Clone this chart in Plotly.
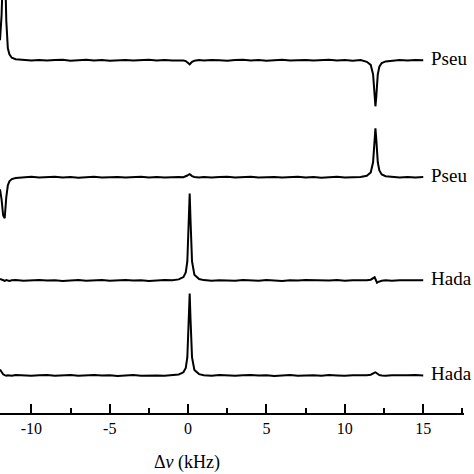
import plotly.graph_objects as go

# frequency offset grid (kHz), shared by the four spectra
freq_khz = [
    -12.0, -11.9, -11.8, -11.7, -11.6, -11.5, -11.4, -11.25, -11.0, -10.5,
    -10.0, -9.5, -9.0, -8.5, -8.0, -7.5, -7.0, -6.5, -6.0, -5.5,
    -5.0, -4.5, -4.0, -3.5, -3.0, -2.5, -2.0, -1.5, -1.0, -0.6,
    -0.3, -0.15, -0.05, 0.05, 0.1, 0.15, 0.25, 0.4, 0.7, 1.0,
    1.5, 2.0, 2.5, 3.0, 3.5, 4.0, 4.5, 5.0, 5.5, 6.0,
    6.5, 7.0, 7.5, 8.0, 8.5, 9.0, 9.5, 10.0, 10.5, 11.0,
    11.4, 11.65, 11.8, 11.9, 11.95, 12.0, 12.05, 12.1, 12.2, 12.35,
    12.6, 13.0, 13.5, 14.0, 14.5, 15.0,
]

# intensities (a.u.), top spectrum first
pseudo_a = [
    20, 45, 95, 110, 40, 12, 6, 2.5, 1.0, 0.3,
    -0.2, 0.4, -0.3, 0.2, 0.5, -0.4, 0.1, 0.6, -0.2, 0.3,
    -0.5, 0.2, 0.4, -0.3, 0.1, 0.5, -0.2, 0.3, -0.1, 0.2,
    -0.3, -0.8, -2.0, -3.5, -4.0, -3.2, -1.5, -0.5, 0.2, -0.2,
    0.4, 0.1, -0.4, 0.3, 0.6, -0.1, 0.2, -0.4, 0.3, 0.5,
    -0.2, 0.1, 0.4, -0.3, 0.2, 0.6, -0.1, 0.3, -0.4, 0.2,
    -1.5, -4.6, -14, -37, -46, -37, -23, -14, -6.4, -2.7,
    -1.1, -0.2, 0.3, -0.2, 0.4, 0.1,
]
pseudo_b = [
    -12, -22, -38, -41, -20, -8, -4, -1.8, -0.8, 0.2,
    0.5, -0.2, 0.3, 0.6, -0.1, 0.2, -0.4, 0.3, 0.5, -0.2,
    0.1, 0.4, -0.3, 0.2, 0.5, -0.1, 0.3, -0.3, 0.2, 0.4,
    0.1, 0.8, 1.8, 2.8, 3.2, 2.6, 1.2, 0.4, -0.2, 0.3,
    -0.1, 0.4, 0.6, -0.2, 0.1, 0.5, -0.3, 0.2, 0.4, -0.2,
    0.3, 0.6, -0.1, 0.2, -0.4, 0.3, 0.5, -0.2, 0.1, 0.4,
    1.6, 4.9, 15, 39, 49, 39, 24.5, 15, 6.9, 2.9,
    1.1, 0.5, -0.1, 0.3, -0.2, 0.2,
]
hadamard_a = [
    1.5, 0.8, 0.2, -0.3, 0.4, 0.1, -0.4, 0.3, 0.5, -0.2,
    0.3, 0.6, -0.1, 0.2, -0.4, 0.3, 0.5, -0.2, 0.1, 0.4,
    -0.3, 0.2, 0.6, -0.1, 0.3, -0.4, 0.2, 0.5, 0.3, 1.1,
    3.4, 8, 19, 62, 87, 62, 19, 5.8, 1.5, 0.4,
    -0.2, 0.3, 0.1, -0.3, 0.4, 0.2, -0.2, 0.5, 0.1, -0.4,
    0.3, -0.1, 0.4, 0.2, -0.3, 0.1, 0.5, -0.2, 0.3, -0.1,
    0.3, 0.8, 1.8, 3.2, 1.5, -1.0, -2.2, -1.6, -0.8, -0.3,
    0.2, -0.2, 0.3, 0.1, -0.3, 0.2,
]
hadamard_b = [
    6, 3.5, 1.2, 0.4, -0.2, 0.3, 0.1, -0.3, 0.4, 0.2,
    -0.3, 0.3, 0.5, -0.2, 0.1, 0.4, -0.3, 0.2, 0.5, -0.1,
    0.3, -0.4, 0.2, 0.4, -0.2, 0.3, 0.1, -0.3, 0.4, 1.0,
    3.2, 7.5, 18, 58, 82, 58, 18, 5.5, 1.4, 0.3,
    -0.2, 0.4, 0.1, -0.3, 0.2, 0.5, -0.1, 0.3, -0.4, 0.2,
    0.4, -0.2, 0.1, 0.3, -0.3, 0.4, 0.1, -0.2, 0.3, 0.1,
    0.3, 0.8, 1.6, 2.8, 3.2, 2.8, 1.9, 1.2, 0.5, 0.1,
    -0.2, 0.3, -0.1, 0.2, 0.4, -0.1,
]

spectra = [pseudo_a, pseudo_b, hadamard_a, hadamard_b]
# the labels are cut by the edge of the source image; only this much is visible
labels = ["Pseu", "Pseu", "Hada", "Hada"]
offsets = [352.7, 235.7, 132.5, 37.5]

tick_vals = [-10, -5, 0, 5, 10, 15]
tick_text = ["-10", "-5", "0", "5", "10", "15"]

SERIF = "Liberation Serif"

fig = go.Figure()
for spec, off, lab in zip(spectra, offsets, labels):
    fig.add_trace(go.Scatter(
        x=freq_khz,
        y=[v + off for v in spec],
        mode="lines",
        line=dict(color="black", width=2),
        hoverinfo="skip",
        showlegend=False,
    ))
    fig.add_annotation(
        x=15, y=off, xref="x", yref="y",
        text=lab, showarrow=False,
        xanchor="left", yanchor="middle", xshift=6, yshift=2,
        font=dict(family=SERIF, size=19, color="black"),
    )

# axis title, centred under 0 kHz as in the original
fig.add_annotation(
    x=-0.05, y=-0.119, xref="x", yref="paper",
    text="Δ<i>ν</i> (kHz)", showarrow=False,
    xanchor="center", yanchor="middle",
    font=dict(family=SERIF, size=18, color="black"),
)

fig.update_xaxes(
    range=[-12, 17.6],
    showline=True, linecolor="black", linewidth=2,
    showgrid=False, zeroline=False,
    ticks="inside", ticklen=9, tickwidth=2, tickcolor="black",
    tickvals=tick_vals, ticktext=tick_text,
    tickfont=dict(family=SERIF, size=16, color="black"),
    minor=dict(dtick=2.5, tick0=0, ticks="inside", ticklen=5, tickwidth=2, tickcolor="black"),
)
fig.update_yaxes(range=[0, 413], visible=False, fixedrange=True)

fig.update_layout(
    width=474, height=474,
    margin=dict(l=0, r=10, t=0, b=61),
    paper_bgcolor="white",
    plot_bgcolor="white",
)

# drop the default 8px page margin so the figure sits at the window corner
fig.write_html(
    "out.html",
    config={"displayModeBar": False},
    post_script="document.body.style.margin='0';",
)
